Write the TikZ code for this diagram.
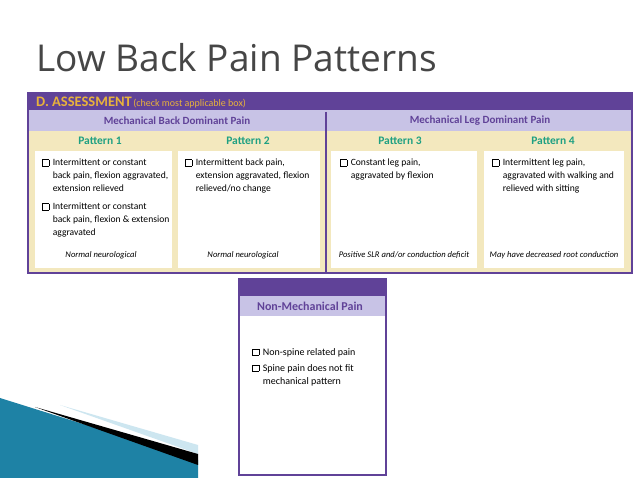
\documentclass[tikz,border=0pt]{standalone}
\usepackage{fontspec}
\setmainfont{Carlito}
\newfontfamily\titlefont{Open Sans}
\newcommand{\cbx}{\raisebox{0.3pt}{\setlength{\fboxsep}{0pt}\setlength{\fboxrule}{0.8pt}\fbox{\rule{0pt}{5.5pt}\hspace{5.5pt}}}\hspace{3.5pt}}
\newcommand{\ind}{\phantom{\cbx}}
\begin{document}
\definecolor{purp}{RGB}{96,66,152}
\definecolor{lav}{RGB}{200,195,230}
\definecolor{beige}{RGB}{243,232,190}
\definecolor{gold}{RGB}{232,178,60}
\definecolor{teal}{RGB}{30,160,130}
\definecolor{titlegray}{RGB}{70,70,70}
\definecolor{wedge}{RGB}{30,130,165}
\definecolor{wedgelight}{RGB}{205,230,240}
\begin{tikzpicture}[x=1pt,y=-1pt,
  hdr/.style={font=\bfseries\fontsize{11}{12}\selectfont,text=purp},
  pat/.style={font=\bfseries\fontsize{11.5}{12}\selectfont,text=teal},
  item/.style={font=\fontsize{9.6}{12.8}\selectfont,anchor=north west,align=left,inner sep=0},
  foot/.style={font=\itshape\fontsize{8.6}{10}\selectfont},
  wbox/.style={fill=white,draw=none}]
\useasboundingbox (0,0) rectangle (638,478);
\fill[white] (0,0) rectangle (638,478);
\node[anchor=base west,font=\titlefont\fontsize{37}{40}\selectfont,text=titlegray] (title) at (33,72) {Low Back Pain Patterns};
% wedge
\fill[wedge] (0,398) -- (198,460) -- (198,478) -- (0,478) -- cycle;
\fill[wedgelight] (60,405) -- (198,445) -- (198,454) -- cycle;
\fill[black] (35,407) -- (198,454) -- (198,465) -- cycle;
% main box
\fill[beige] (28,93) rectangle (632,273);
\fill[purp] (28,93) rectangle (632,110);
\fill[lav] (29,110) rectangle (631,131);
\draw[purp,line width=1.5pt] (28,93) rectangle (632,273);
\draw[purp,line width=1.5pt] (326,112) -- (326,272);
\node[anchor=base west,inner sep=0] (dass) at (36,107) {\textcolor{gold}{\bfseries\fontsize{14.5}{14}\selectfont D. ASSESSMENT}\,\textcolor{gold}{\fontsize{10}{10}\selectfont(check most applicable box)}};
\node[hdr] (mbd) at (177,121) {Mechanical Back Dominant Pain};
\node[hdr] (mld) at (480,121) {Mechanical Leg Dominant Pain};
\node[pat] (p1) at (100,141) {Pattern 1};
\node[pat] (p2) at (248,141) {Pattern 2};
\node[pat] (p3) at (400,141) {Pattern 3};
\node[pat] (p4) at (553,141) {Pattern 4};
\fill[wbox] (35,151) rectangle (172,268);
\fill[wbox] (178,151) rectangle (320,268);
\fill[wbox] (331,151) rectangle (477,268);
\fill[wbox] (484,151) rectangle (624,268);
\node[item] (i1) at (42,159) {\cbx Intermittent or constant\\\ind back pain, flexion aggravated,\\\ind extension relieved};
\node[item] (i2) at (42,203) {\cbx Intermittent or constant\\\ind back pain, flexion \& extension\\\ind aggravated};
\node[item] (i3) at (185,159) {\cbx Intermittent back pain,\\\ind extension aggravated, flexion\\\ind relieved/no change};
\node[item] (i4) at (340,159) {\cbx Constant leg pain,\\\ind aggravated by flexion};
\node[item] (i5) at (492,159) {\cbx Intermittent leg pain,\\\ind aggravated with walking and\\\ind relieved with sitting};
\node[foot] (f1) at (101,255) {Normal neurological};
\node[foot] (f2) at (243,255) {Normal neurological};
\node[foot] (f3) at (404,255) {Positive SLR and/or conduction deficit};
\node[foot] (f4) at (554,255) {May have decreased root conduction};
% non-mechanical
\fill[white] (239,279) rectangle (386,475);
\fill[purp] (239,279) rectangle (386,296);
\fill[lav] (240,296) rectangle (385,316);
\draw[purp,line width=1.5pt] (239,279) rectangle (386,475);
\node[hdr,font=\bfseries\fontsize{12}{13}\selectfont] (nm) at (310,306) {Non-Mechanical Pain};
\node[item,font=\fontsize{10}{13}\selectfont] (n1) at (252,348) {\cbx Non-spine related pain\\[3pt]\cbx Spine pain does not fit\\\ind mechanical pattern};
\end{tikzpicture}
\end{document}
